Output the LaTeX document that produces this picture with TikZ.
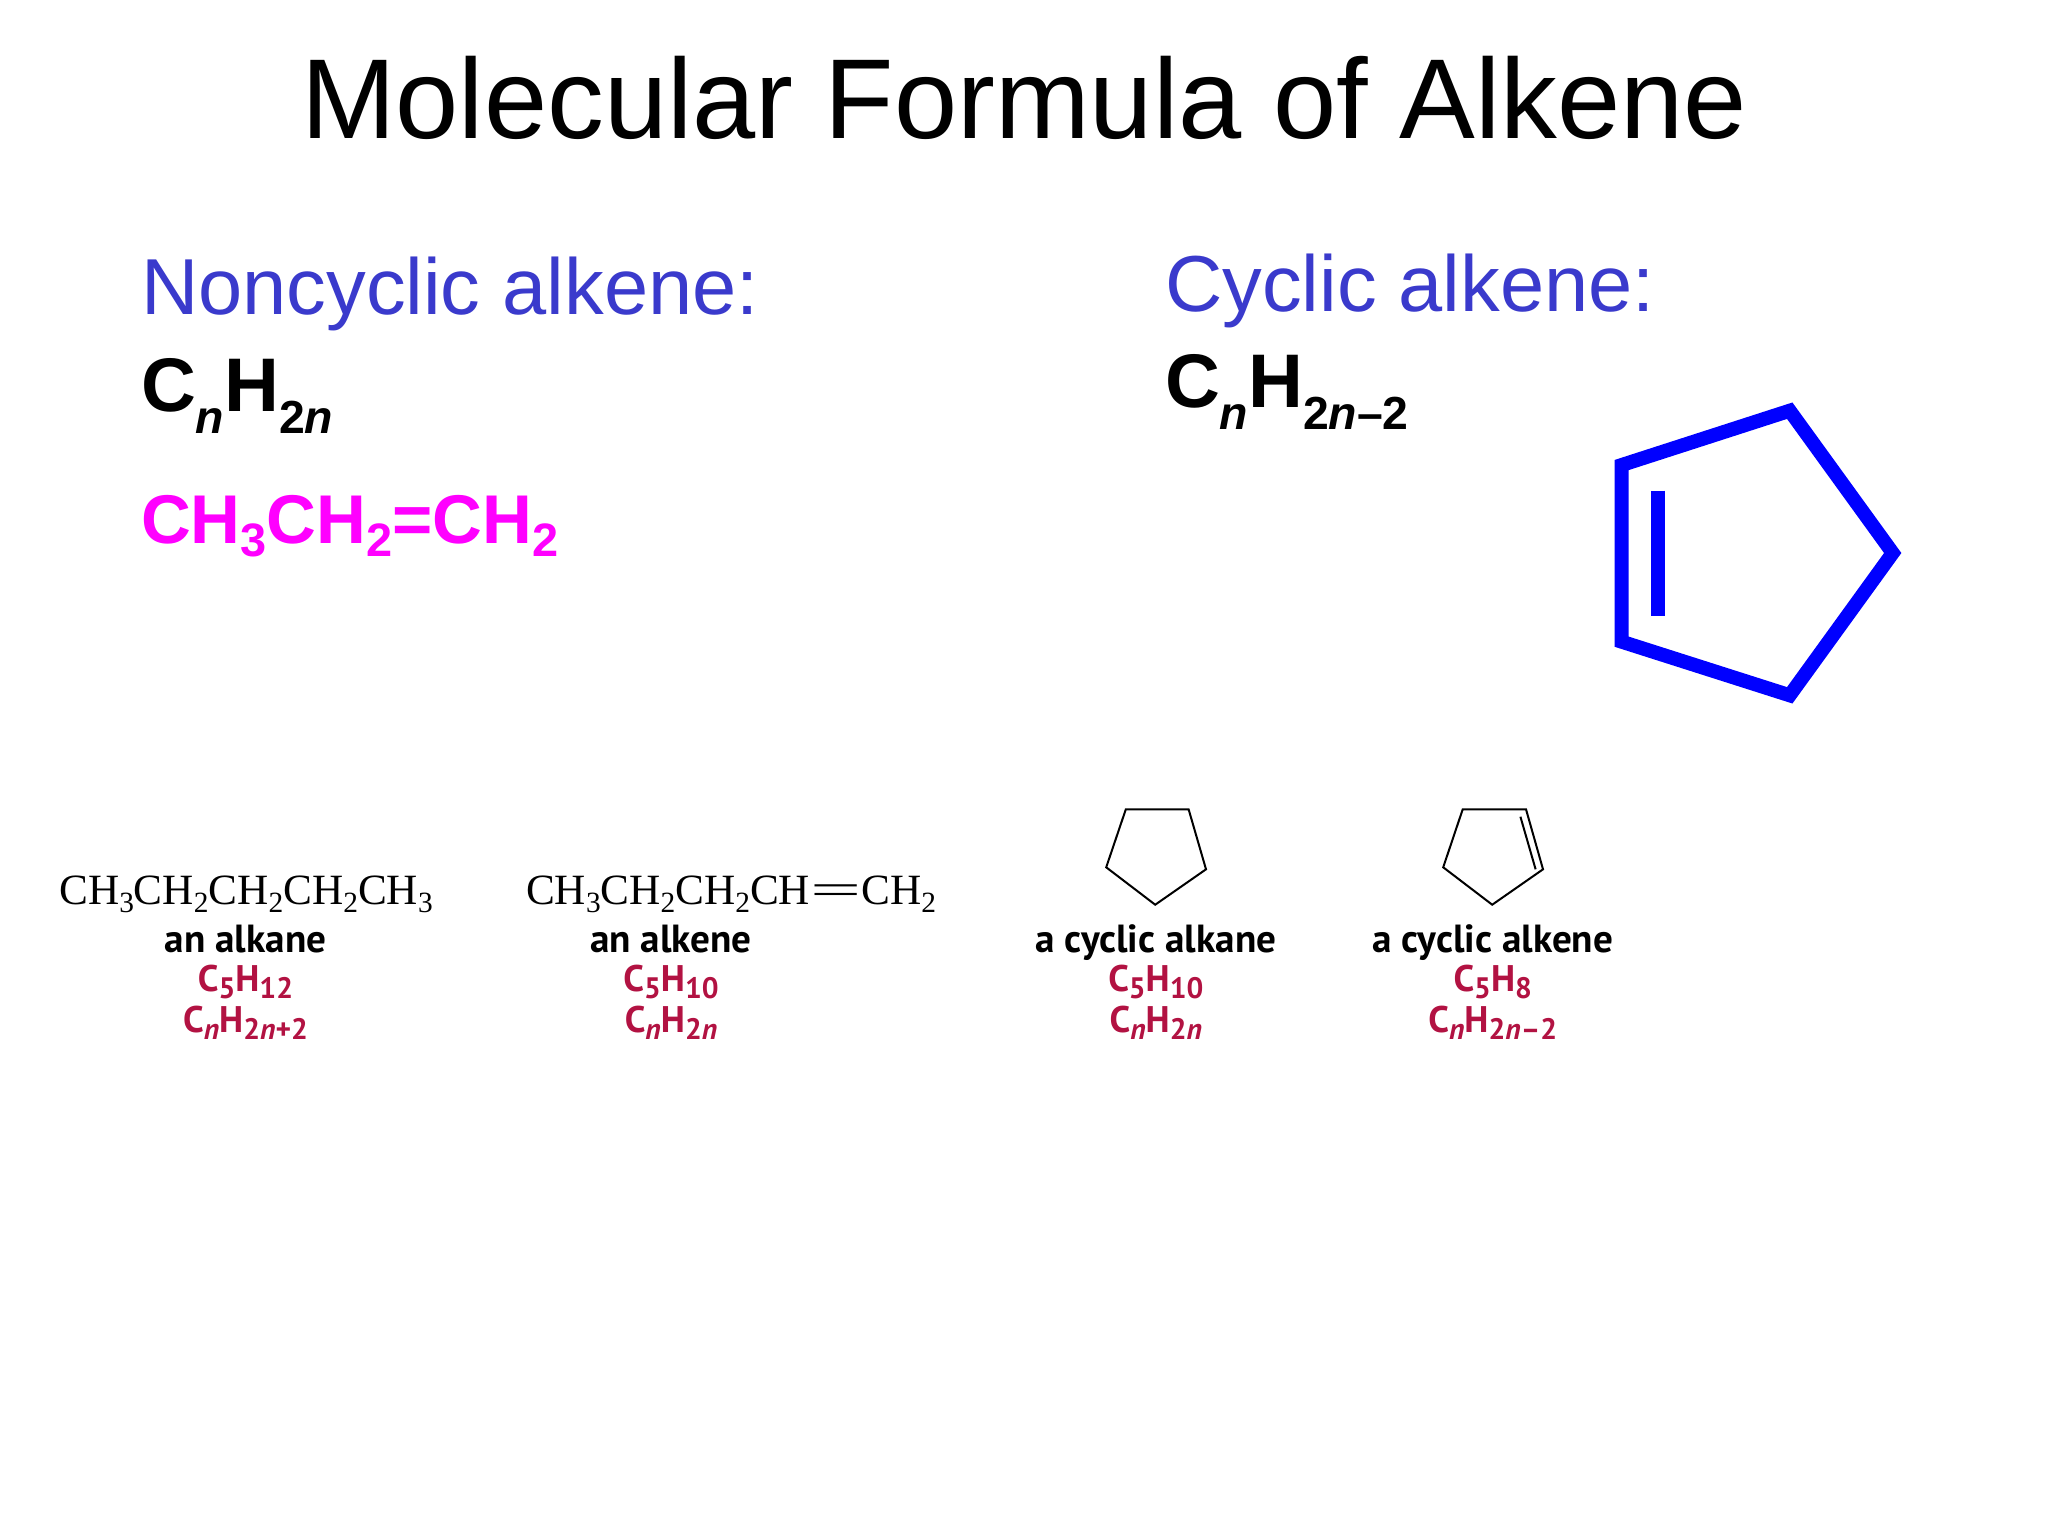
\documentclass[tikz,border=0pt]{standalone}
\usepackage{fontspec}
\usepackage{graphicx}
\setmainfont{Liberation Sans}
\newfontfamily\serifface{Liberation Serif}
\newfontfamily\labelface{PT Sans}
\definecolor{headblue}{RGB}{58,58,204}
\definecolor{ringblue}{RGB}{0,0,255}
\definecolor{formred}{RGB}{178,18,66}
\definecolor{magentapink}{RGB}{255,0,255}
\makeatletter
\newcommand\subratio{0.68}
\newcommand\subdrop{-0.3em}
\newcommand\dn[1]{\raisebox{\subdrop}{\fontsize{\fpeval{\subratio*\f@size}}{10}\selectfont #1}}
\makeatother
\newcommand\fs[1]{\fontsize{#1}{#1}\selectfont}
\tikzset{
  txt/.style={inner sep=0pt,outer sep=0pt,anchor=base west},
  ctr/.style={inner sep=0pt,outer sep=0pt,anchor=base},
  title/.style={ctr,font=\fs{56.8}},
  head/.style={txt,text=headblue,font=\fs{39.7}},
  general/.style={txt,font=\fs{38}\bfseries\renewcommand\subratio{0.61}},
  example/.style={txt,text=magentapink,font=\fs{34.5}\bfseries\renewcommand\subdrop{-0.2em}},
  chem/.style={ctr,font=\serifface\fs{21.6}\renewcommand\subdrop{-0.2em}},
  cname/.style={ctr,font=\labelface\bfseries\fs{19.6}},
  cform/.style={ctr,text=formred,font=\labelface\bfseries\fs{18.5}\renewcommand\subratio{0.8}\renewcommand\subdrop{-0.2em}},
  bigring/.style={draw=ringblue,line width=7pt,line join=miter},
  smallring/.style={draw=black,line width=1pt,line join=miter}
}
\begin{document}
\begin{tikzpicture}[x=0.5pt,y=-0.5pt]
\useasboundingbox[fill=white] (0,0) rectangle (2048,1536);
\node[title] (t) at (1024,138) {Molecular Formula of Alkene};
\node[head] (h1) at (141,314) {Noncyclic alkene:};
\node[general] (g1) at (141,411) {C\dn{\textit{n}}H\dn{2\textit{n}}};
\node[example] (e1) at (141,543) {CH\dn{3}CH\dn{2}=CH\dn{2}};
\node[head] (h2) at (1165,311) {Cyclic alkene:};
\node[general] (g2) at (1165,407) {C\dn{\textit{n}}H\dn{2\textit{n}–2}};
% big ring
\coordinate (a1) at (1621.7,465);
\coordinate (a2) at (1789.7,410.7);
\coordinate (a3) at (1892.7,553);
\coordinate (a4) at (1789.7,695.3);
\coordinate (a5) at (1621.7,641.7);
\draw[bigring] (a1)--(a2)--(a3)--(a4)--(a5)--cycle;
\coordinate (b1) at (1658,490.7);
\coordinate (b2) at (1658,616);
\draw[bigring] (b1)--(b2);
% column 1
\node[chem] (c1) at (246,904) {CH\dn{3}CH\dn{2}CH\dn{2}CH\dn{2}CH\dn{3}};
\node[cname] (n1) at (245.5,952) {an alkane};
\node[cform] (f1) at (245.5,991) {C\dn{5}H\dn{12}};
\node[cform] (p1) at (245.5,1032) {C\dn{\textit{n}}H\dn{2\textit{n}+2}};
% column 2
\node[chem] (c2) at (731,904) {CH\dn{3}CH\dn{2}CH\dn{2}CH\scalebox{2.1}[1]{=}CH\dn{2}};
\node[cname] (n2) at (671,952) {an alkene};
\node[cform] (f2) at (671,991) {C\dn{5}H\dn{10}};
\node[cform] (p2) at (671,1032) {C\dn{\textit{n}}H\dn{2\textit{n}}};
% column 3
\coordinate (r1) at (1125.8,809.3);
\coordinate (r2) at (1188.6,809.3);
\coordinate (r3) at (1206,869.3);
\coordinate (r4) at (1155.2,904.7);
\coordinate (r5) at (1106.2,867.3);
\draw[smallring] (r1)--(r2)--(r3)--(r4)--(r5)--cycle;
\node[cname] (n3) at (1155.8,952) {a cyclic alkane};
\node[cform] (f3) at (1155.8,991) {C\dn{5}H\dn{10}};
\node[cform] (p3) at (1155.8,1032) {C\dn{\textit{n}}H\dn{2\textit{n}}};
% column 4
\coordinate (s1) at (1462.7,809.3);
\coordinate (s2) at (1526,809.3);
\coordinate (s3) at (1543,869.3);
\coordinate (s4) at (1492.2,904.7);
\coordinate (s5) at (1443.2,867.3);
\draw[smallring] (s1)--(s2)--(s3)--(s4)--(s5)--cycle;
\coordinate (s6) at (1520.4,816.7);
\coordinate (s7) at (1535.6,869.3);
\draw[smallring] (s6)--(s7);
\node[cname] (n4) at (1492.7,952) {a cyclic alkene};
\node[cform] (f4) at (1492.7,991) {C\dn{5}H\dn{8}};
\node[cform] (p4) at (1492.7,1032) {C\dn{\textit{n}}H\dn{2\textit{n}–2}};
\end{tikzpicture}
\end{document}
